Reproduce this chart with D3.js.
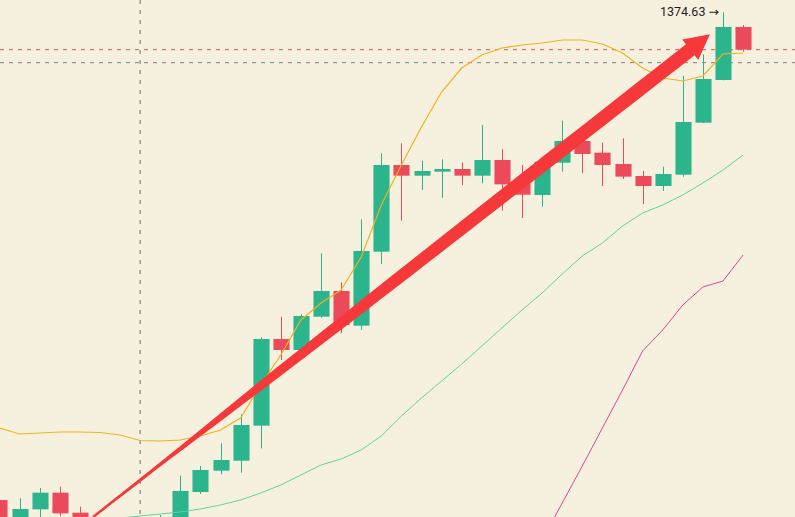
<!DOCTYPE html>
<html><head><meta charset="utf-8">
<script src="https://cdn.jsdelivr.net/npm/d3@7/dist/d3.min.js"></script>
<style>html,body{margin:0;padding:0;background:#f6f1df;overflow:hidden}svg{display:block}</style>
</head><body><svg id="c" width="795" height="517"></svg>
<script>
// candle index labels (session numbers)
const categories = d3.range(38).map(i => "D" + (i + 1));
const opens  = [1082.0,1070.0,1076.4,1086.4,1074.4,1065.0,1056.0,1062.0,1057.0,1066.0,1086.8,1099.6,1105.6,1126.6,1178.6,1172.0,1192.0,1207.4,1186.6,1231.0,1283.0,1276.6,1279.0,1280.6,1276.6,1286.0,1272.0,1265.0,1284.4,1297.4,1290.4,1283.6,1276.4,1270.4,1277.2,1308.4,1334.0,1365.8];
const closes = [1068.8,1076.6,1086.4,1074.0,1065.2,1058.0,1062.0,1057.0,1066.0,1087.4,1100.0,1106.0,1127.0,1178.6,1172.0,1192.4,1207.4,1187.0,1231.4,1283.0,1276.6,1279.4,1280.6,1276.6,1286.0,1271.4,1265.2,1285.0,1297.4,1289.6,1283.0,1276.0,1270.4,1277.6,1308.8,1334.6,1365.8,1352.2];
const highs  = [1082.0,1083.0,1089.2,1090.0,1078.0,1068.0,1064.0,1066.0,1073.0,1096.6,1102.4,1116.0,1133.4,1179.6,1192.0,1193.4,1230.0,1212.6,1250.4,1290.0,1296.0,1285.6,1286.4,1284.4,1307.0,1292.6,1283.0,1287.4,1309.6,1297.6,1296.4,1299.0,1279.4,1282.0,1336.4,1349.4,1374.63,1367.0];
const lows   = [1064.0,1067.0,1068.8,1072.4,1061.0,1054.0,1052.0,1050.0,1055.0,1063.0,1085.6,1097.4,1098.4,1113.0,1166.0,1171.6,1191.4,1182.0,1184.0,1223.6,1249.6,1268.0,1263.4,1271.0,1272.0,1255.6,1251.2,1258.0,1279.0,1278.2,1270.4,1274.6,1259.6,1267.4,1276.0,1308.2,1333.8,1351.0];
// moving averages
const maYellow = [1125.2,1121.6,1122.2,1122.8,1122.8,1122.5,1121.0,1117.7,1117.4,1118.0,1120.4,1124.0,1131.2,1151.0,1169.0,1190.0,1200.2,1208.0,1227.8,1259.0,1283.0,1305.8,1326.8,1341.2,1349.0,1353.2,1355.0,1356.2,1358.0,1358.0,1355.6,1350.2,1341.2,1335.2,1333.4,1336.4,1349.6,1350.2];
const maTeal   = [1066.0,1067.0,1068.0,1068.5,1069.0,1070.0,1071.2,1072.4,1073.6,1074.8,1076.6,1079.0,1082.0,1086.2,1091.0,1097.0,1103.0,1106.6,1112.0,1120.4,1132.4,1143.2,1153.4,1163.6,1174.4,1185.2,1196.0,1206.2,1217.6,1228.4,1236.2,1246.4,1254.2,1259.0,1265.0,1272.2,1280.0,1289.0];
const maPink   = [null,null,null,null,null,null,null,null,null,null,null,null,null,null,null,null,null,null,null,null,null,null,null,null,1000.0,1020.0,1040.0,1058.0,1080.2,1102.4,1125.2,1148.0,1171.4,1184.0,1199.0,1209.8,1213.4,1229.0];
// reference levels
const lastPrice = 1352.2;
const crossPrice = 1344.4;
const crossIndex = 7;
const highLabel = "1374.63";
// trend arrow annotation (index, price)
const arrowFrom = [4.66, 1071.8];
const arrowTo   = [35.35, 1361.4];

const W = 795, H = 517;
const svg = d3.select("#c");
const x = d3.scaleLinear().domain([0, 37]).range([-0.6, 743.1]);
const y = d3.scaleLinear().domain([1071.8, 1382]).range([517, 0]);
const step = x(1) - x(0);
const bodyW = step * 0.8;

const data = categories.map((c, i) => ({c, i, o: opens[i], cl: closes[i], h: highs[i], l: lows[i]}));
const UP = "#2cb48c", DOWN = "#eb4a5a";

// dashed reference lines
svg.append("line").attr("x1", x(crossIndex)).attr("x2", x(crossIndex)).attr("y1", 0).attr("y2", H)
  .attr("stroke", "#6f6f6f").attr("stroke-width", 1).attr("stroke-dasharray", "4,6");
svg.append("line").attr("x1", 0).attr("x2", W).attr("y1", y(lastPrice)).attr("y2", y(lastPrice))
  .attr("stroke", "#e0505e").attr("stroke-width", 1).attr("stroke-dasharray", "4,5");
svg.append("line").attr("x1", 0).attr("x2", W).attr("y1", y(crossPrice)).attr("y2", y(crossPrice))
  .attr("stroke", "#7f7f7f").attr("stroke-width", 1).attr("stroke-dasharray", "4,5");

// candles
const g = svg.append("g");
const cg = g.selectAll("g.candle").data(data).join("g").attr("class", "candle");
cg.append("line")
  .attr("x1", d => Math.round(x(d.i)) + 0.5).attr("x2", d => Math.round(x(d.i)) + 0.5)
  .attr("y1", d => y(d.h)).attr("y2", d => y(d.l))
  .attr("stroke", d => d.cl >= d.o ? UP : DOWN).attr("stroke-width", 1);
cg.append("rect")
  .attr("x", d => Math.round(x(d.i)) + 0.5 - bodyW / 2)
  .attr("width", bodyW)
  .attr("y", d => y(Math.max(d.o, d.cl)))
  .attr("height", d => Math.max(1, Math.abs(y(d.o) - y(d.cl))))
  .attr("fill", d => d.cl >= d.o ? UP : DOWN);

// moving averages
const mkLine = arr => d3.line().defined((d, i) => arr[i] != null).x((d, i) => x(i)).y((d, i) => y(arr[i]))(arr);
svg.append("path").attr("d", mkLine(maTeal)).attr("fill", "none").attr("stroke", "#5fd3a5").attr("stroke-width", 1);
svg.append("path").attr("d", mkLine(maPink)).attr("fill", "none").attr("stroke", "#e0449c").attr("stroke-width", 1);
svg.append("path").attr("d", mkLine(maYellow)).attr("fill", "none").attr("stroke", "#f2b21e").attr("stroke-width", 1.2);

// trend arrow
(function () {
  const p0 = [x(arrowFrom[0]), y(arrowFrom[1])], p1 = [x(arrowTo[0]), y(arrowTo[1])];
  const dx = p1[0] - p0[0], dy = p1[1] - p0[1], len = Math.hypot(dx, dy);
  const u = [dx / len, dy / len], n = [-u[1], u[0]];
  const headL = 25, headHW = 13;
  const base = [p1[0] - u[0] * headL, p1[1] - u[1] * headL];
  const shaftLen = len - headL;
  const widths = [[0, 1.2], [0.12, 1.8], [0.3, 4.4], [0.5, 6.0], [0.75, 6.7], [1, 7.0]];
  const wAt = t => { for (let k = 1; k < widths.length; k++) { if (t <= widths[k][0]) { const a = widths[k-1], b = widths[k]; return a[1] + (b[1]-a[1]) * (t - a[0]) / (b[0]-a[0]); } } return widths[widths.length-1][1]; };
  const left = [], right = [];
  for (let s = 0; s <= 40; s++) {
    const t = s / 40, d = t * shaftLen, w = wAt(t);
    const c = [p0[0] + u[0] * d, p0[1] + u[1] * d];
    left.push([c[0] + n[0] * w, c[1] + n[1] * w]);
    right.push([c[0] - n[0] * w, c[1] - n[1] * w]);
  }
  const pts = left.concat([[base[0] + n[0] * headHW, base[1] + n[1] * headHW], p1, [base[0] - n[0] * headHW, base[1] - n[1] * headHW]], right.reverse());
  svg.append("path").attr("d", "M" + pts.map(p => p.join(",")).join("L") + "Z").attr("fill", "#f6383a");
})();

// high label
const hi = d3.maxIndex(highs);
svg.append("text").attr("x", x(hi) - 4).attr("y", y(highs[hi]) + 4)
  .attr("text-anchor", "end").attr("font-family", "Roboto, 'DejaVu Sans', sans-serif").attr("font-size", 12.5)
  .attr("fill", "#1e1e1e").text(highLabel + " \u2192");
</script></body></html>
